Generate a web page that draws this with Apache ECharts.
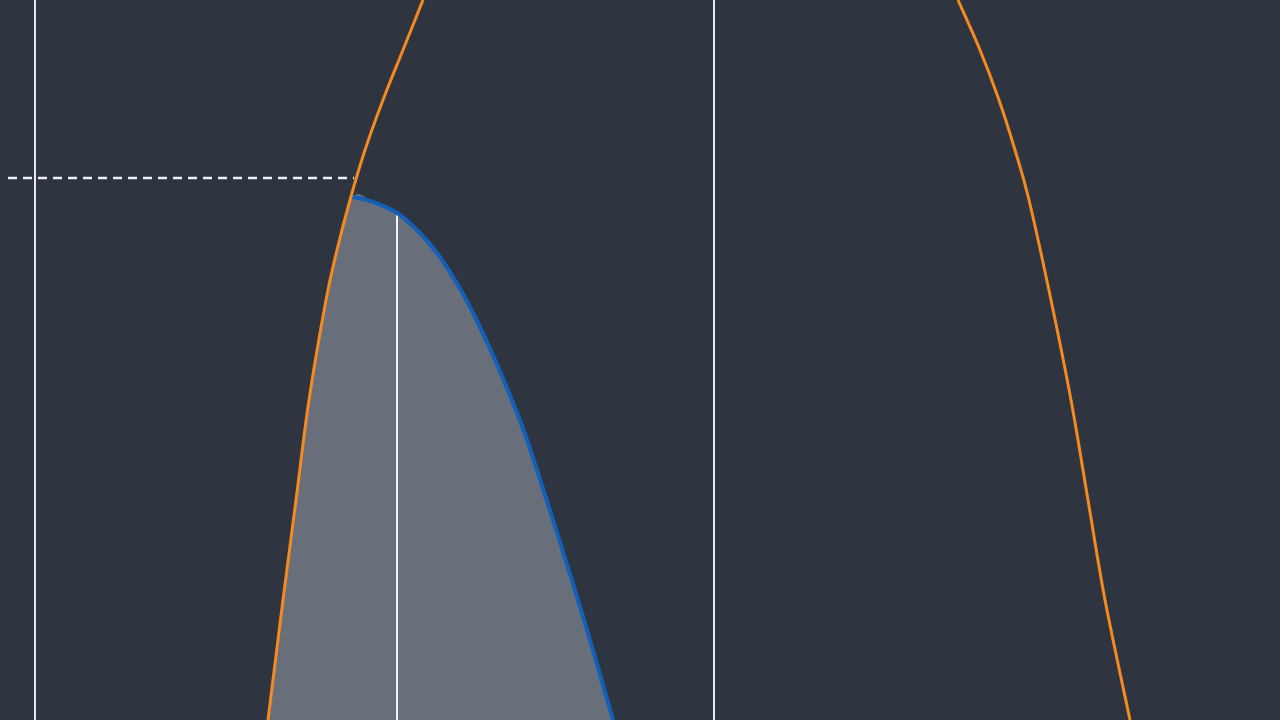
<!DOCTYPE html>
<html>
<head>
<meta charset="utf-8">
<script src="https://cdn.jsdelivr.net/npm/echarts@6/dist/echarts.min.js"></script>
<style>
html,body{margin:0;padding:0;background:#2e3440;}
#c{width:1280px;height:720px;}
</style>
</head>
<body>
<div id="c"></div>
<script>
// Orange curve, rising (left) branch
var orangeLeftX = [268, 283, 296, 309, 326, 337, 350, 365, 383, 403, 423];
var orangeLeftY = [0, 120, 220, 320, 420, 470, 520, 570, 620, 670, 720];
// Orange curve, falling (right) branch
var orangeRightX = [958, 980, 999, 1015, 1029, 1051, 1071, 1088, 1105, 1130];
var orangeRightY = [720, 670, 620, 570, 520, 420, 320, 220, 120, 0];
// Blue curve (top of the grey area)
var blueX = [353, 373, 397, 420, 440, 459, 475, 492, 509, 526, 553, 584, 613];
var blueY = [523, 518, 507, 487, 463, 433, 403, 367, 327, 283, 200, 100, 0];
// Reference lines
var verticalX = [35, 714];
var markerX = 397;          // vertical line under the blue curve
var markerTop = 507;
var levelY = 542;           // dashed horizontal level
var levelFromX = 8;
var levelToX = 354;

function pairs(xs, ys) { return xs.map(function (x, i) { return [x, ys[i]]; }); }

var orangeLeft = pairs(orangeLeftX, orangeLeftY);
var orangeRight = pairs(orangeRightX, orangeRightY);
var blue = pairs(blueX, blueY);
// grey area: under the orange branch up to where blue starts, then under the blue curve
var fillData = orangeLeft.filter(function (p) { return p[1] < blue[0][1] - 5; }).concat(blue);

// Catmull-Rom spline through data points, converted to pixels by the chart's own axes
function splinePath(api, pts, close) {
  var p = pts.map(function (d) { return api.coord(d); });
  var t = 1 / 6;
  var d = 'M' + p[0][0] + ' ' + p[0][1];
  for (var i = 0; i < p.length - 1; i++) {
    var p0 = p[i - 1] || p[i], p1 = p[i], p2 = p[i + 1], p3 = p[i + 2] || p[i + 1];
    var c1x = p1[0] + (p2[0] - p0[0]) * t, c1y = p1[1] + (p2[1] - p0[1]) * t;
    var c2x = p2[0] - (p3[0] - p1[0]) * t, c2y = p2[1] - (p3[1] - p1[1]) * t;
    d += ' C' + c1x + ' ' + c1y + ' ' + c2x + ' ' + c2y + ' ' + p2[0] + ' ' + p2[1];
  }
  if (close) d += ' Z';
  return d;
}

function curveSeries(points, style, z, close) {
  return {
    type: 'custom', silent: true, z: z, clip: true,
    data: points,
    renderItem: function (params, api) {
      if (params.dataIndex !== 0) return null;
      return {
        type: 'path',
        shape: { pathData: splinePath(api, points, close) },
        style: style
      };
    }
  };
}

function segmentSeries(a, b, style, z) {
  return {
    type: 'line', data: [a, b], symbol: 'none', silent: true, z: z,
    lineStyle: style
  };
}

var option = {
  backgroundColor: '#2e3440',
  animation: false,
  grid: { left: 0, right: 0, top: 0, bottom: 0 },
  xAxis: { type: 'value', min: 0, max: 1280, show: false },
  yAxis: { type: 'value', min: 0, max: 720, show: false },
  series: [
    curveSeries(fillData, { fill: '#686f7b', stroke: null }, 1, true),
    segmentSeries([verticalX[0], 0], [verticalX[0], 720], { color: '#e6eaf0', width: 2 }, 2),
    segmentSeries([verticalX[1], 0], [verticalX[1], 720], { color: '#e6eaf0', width: 2 }, 2),
    segmentSeries([markerX, 0], [markerX, markerTop], { color: '#eef1f5', width: 2 }, 2),
    segmentSeries([levelFromX, levelY], [levelToX, levelY], { color: '#eef1f5', width: 2.5, type: [9, 6] }, 2),
    curveSeries(blue, { fill: null, stroke: '#1460b8', lineWidth: 4, lineCap: 'round' }, 3, false),
    curveSeries(orangeLeft, { fill: null, stroke: '#f58a1f', lineWidth: 3 }, 4, false),
    curveSeries(orangeRight, { fill: null, stroke: '#f58a1f', lineWidth: 3 }, 4, false)
  ]
};
var chart = echarts.init(document.getElementById('c'));
chart.setOption(option);
</script>
</body>
</html>
